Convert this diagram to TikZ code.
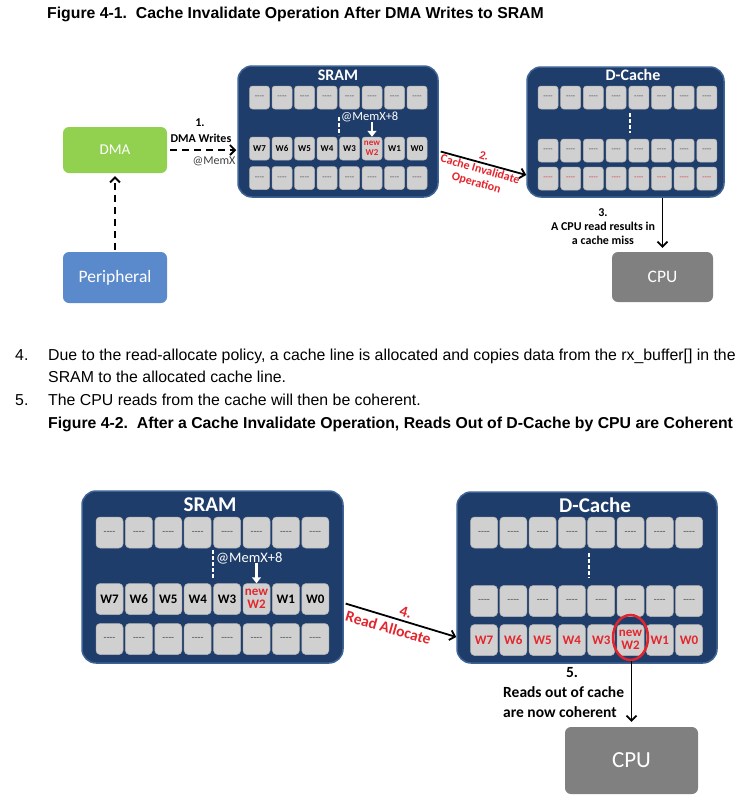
\documentclass[tikz,border=0pt]{standalone}
\usepackage{fontspec}
\setmainfont{Carlito}
\newfontfamily\nar{Liberation Sans}
\usetikzlibrary{arrows.meta,calc,shapes.geometric}
\definecolor{navy}{HTML}{1F3D6B}
\definecolor{navyedge}{HTML}{3E6496}
\definecolor{cellg}{HTML}{D0D0D0}
\definecolor{celledge}{HTML}{B4B4B4}
\definecolor{dashg}{HTML}{404040}
\definecolor{dmag}{HTML}{92D050}
\definecolor{perb}{HTML}{5A8ACB}
\definecolor{cpug}{HTML}{808080}
\definecolor{redt}{HTML}{E3262D}
\newcommand\celldash{{-}{-}{-}{-}}
\tikzset{
 membox/.style={draw=navyedge,line width=1.5pt,fill=navy,rounded corners=14pt,inner sep=0pt},
 blk/.style={rounded corners=6pt,inner sep=0pt,text=white},
 cellS/.style={fill=cellg,draw=celledge,line width=0.5pt,rounded corners=3pt,inner sep=0pt,minimum width=20pt,minimum height=23pt,font=\bfseries\fontsize{9}{9.5}\selectfont,align=center},
 cellL/.style={fill=cellg,draw=celledge,line width=0.5pt,rounded corners=4pt,inner sep=0pt,minimum width=27pt,minimum height=31pt,font=\bfseries\fontsize{13}{13}\selectfont,align=center},
 dS/.style={font=\fontsize{7.5}{7.5}\selectfont,text=dashg},
 dL/.style={font=\fontsize{9.5}{9.5}\selectfont,text=dashg},
 ttlS/.style={text=white,font=\bfseries\fontsize{16}{16}\selectfont,inner sep=0pt},
 ttlL/.style={text=white,font=\bfseries\fontsize{21}{21}\selectfont,inner sep=0pt},
 arr/.style={-{Straight Barb[length=5pt,width=10pt]},line width=1.8pt},
 darr/.style={arr,dash pattern=on 7pt off 5pt},
 warr/.style={-{Triangle[length=6pt,width=9pt]},line width=2.2pt,white},
 wdash/.style={white,line width=2pt,dash pattern=on 4pt off 2pt},
 lbl/.style={inner sep=0pt,font=\bfseries\fontsize{12}{14}\selectfont,align=center},
 rlbl/.style={lbl,text=redt},
 bodytxt/.style={inner sep=0pt,anchor=base west,font=\nar\fontsize{15.85}{16}\selectfont},
 captxt/.style={inner sep=0pt,anchor=base west,font=\nar\bfseries\fontsize{15.8}{16}\selectfont},
}
\begin{document}
\begin{tikzpicture}[x=1pt,y=-1pt]
\useasboundingbox (0,0) rectangle (750,804);
% captions and body text
\node[captxt] (cap1) at (47,18.3) {Figure 4-1.\ \ Cache Invalidate Operation After DMA Writes to SRAM};
\node[bodytxt] (n4) at (15,360.7) {4.};
\node[bodytxt] (t4a) at (48,360.7) {Due to the read-allocate policy, a cache line is allocated and copies data from the rx\_buffer[] in the};
\node[bodytxt] (t4b) at (48,382.7) {SRAM to the allocated cache line.};
\node[bodytxt] (n5) at (15,405.7) {5.};
\node[bodytxt] (t5) at (48,405.7) {The CPU reads from the cache will then be coherent.};
\node[captxt] (cap2) at (48,428.3) {Figure 4-2.\ \ After a Cache Invalidate Operation, Reads Out of D-Cache by CPU are Coherent};

% ================= Figure 4-1 =================
\node[blk,fill=dmag,minimum width=104pt,minimum height=46pt,font=\fontsize{15}{15}\selectfont] (dma) at (115,150) {DMA};
\node[blk,fill=perb,minimum width=104pt,minimum height=51pt,font=\fontsize{17.5}{17.5}\selectfont] (per) at (115,277.5) {Peripheral};
\node[blk,fill=cpug,minimum width=101pt,minimum height=50pt,font=\fontsize{17.5}{17.5}\selectfont] (cpu1) at (662.5,277) {CPU};

\node[membox,minimum width=200pt,minimum height=131pt] (sram1) at (338,131.5) {};
\node[ttlS] (sram1t) at (338,75) {SRAM};
\foreach \i in {0,...,7}{
  \node[cellS,dS] (sa\i) at ({259.5+22.5*\i},97.5) {\celldash};
  \node[cellS,dS] (sc\i) at ({259.5+22.5*\i},178) {\celldash};
}
\foreach \t [count=\i from 0] in {W7,W6,W5,W4,W3}{
  \node[cellS] (sb\i) at ({259.5+22.5*\i},148.5) {\t};
}
\node[cellS,text=redt] (sb5) at (372,148.5) {new\\W2};
\foreach \t [count=\i from 6] in {W1,W0}{
  \node[cellS] (sb\i) at ({259.5+22.5*\i},148.5) {\t};
}
\node[inner sep=0pt,text=white,font=\fontsize{12.5}{12.5}\selectfont,anchor=west] (mx1) at (341,117) {@MemX+8};
\coordinate (d1a) at (338.5,117);
\coordinate (d1b) at (338.5,135);
\draw[wdash] (d1a) -- (d1b);
\coordinate (w1a) at (372,122);
\draw[warr] (w1a) -- (sb5.north);

\node[membox,minimum width=197pt,minimum height=130pt] (dc1) at (625.5,132) {};
\node[ttlS] (dc1t) at (633,75) {D-Cache};
\foreach \i in {0,...,7}{
  \node[cellS,dS] (ca\i) at ({548+22.7*\i},97.5) {\celldash};
  \node[cellS,dS] (cb\i) at ({548+22.7*\i},150.5) {\celldash};
  \node[cellS,dS,text=redt] (cc\i) at ({548+22.7*\i},178.5) {\celldash};
}
\coordinate (d2a) at (629.5,113);
\coordinate (d2b) at (629.5,133);
\draw[wdash] (d2a) -- (d2b);

% connectors fig 1
\draw[darr,shorten <=2pt,shorten >=3pt] (per.north) -- (dma.south);
\draw[darr,shorten <=3pt,shorten >=1pt] (dma.east) -- (dma.east -| sram1.west);
\node[lbl] (l1a) at (200,123) {1.};
\node[lbl] (l1b) at (201,138) {DMA Writes};
\node[inner sep=0pt,font=\fontsize{12}{12}\selectfont,text=black!75] (l1c) at (214,161.5) {@MemX};

\draw[arr,shorten <=2pt] ([yshift=-19.5pt]sram1.east) -- ([yshift=-43pt]dc1.west);
\node[rlbl,rotate=-16] (l2) at (480,170) {2.\\Cache Invalidate\\Operation};

\draw[arr,shorten >=4pt] (cpu1.north |- dc1.south) -- (cpu1.north);
\node[lbl] (l3) at (603,226.5) {3.\\A CPU read results in\\a cache miss};

% ================= Figure 4-2 =================
\node[membox,minimum width=261pt,minimum height=172pt] (sram2) at (212.5,577) {};
\node[ttlL] (sram2t) at (210,505) {SRAM};
\foreach \i in {0,...,7}{
  \node[cellL,dL] (ta\i) at ({109.5+29.4*\i},532.5) {\celldash};
  \node[cellL,dL] (tc\i) at ({109.5+29.4*\i},639) {\celldash};
}
\foreach \t [count=\i from 0] in {W7,W6,W5,W4,W3}{
  \node[cellL] (tb\i) at ({109.5+29.4*\i},599) {\t};
}
\node[cellL,text=redt] (tb5) at (256.5,599) {new\\W2};
\foreach \t [count=\i from 6] in {W1,W0}{
  \node[cellL] (tb\i) at ({109.5+29.4*\i},599) {\t};
}
\node[inner sep=0pt,text=white,font=\fontsize{14.5}{14.5}\selectfont,anchor=west] (mx2) at (216,558) {@MemX+8};
\coordinate (d3a) at (212.5,550);
\coordinate (d3b) at (212.5,578);
\draw[wdash] (d3a) -- (d3b);
\coordinate (w2a) at (256.5,563);
\draw[warr] (w2a) -- (tb5.north);

\node[membox,minimum width=260pt,minimum height=171pt] (dc2) at (587,577.5) {};
\node[ttlL] (dc2t) at (595,505) {D-Cache};
\foreach \i in {0,...,7}{
  \node[cellL,dL] (ua\i) at ({484+29.3*\i},532.5) {\celldash};
  \node[cellL,dL] (ub\i) at ({484+29.3*\i},601) {\celldash};
}
\foreach \t [count=\i from 0] in {W7,W6,W5,W4,W3}{
  \node[cellL,text=redt] (uc\i) at ({484+29.3*\i},640) {\t};
}
\node[cellL,text=redt] (uc5) at (630.5,640) {new\\W2};
\foreach \t [count=\i from 6] in {W1,W0}{
  \node[cellL,text=redt] (uc\i) at ({484+29.3*\i},640) {\t};
}
\node[draw=redt,line width=2.5pt,ellipse,minimum width=35pt,minimum height=45pt,inner sep=0pt] (ring) at (630.5,637.5) {};
\coordinate (d4a) at (588.5,553);
\coordinate (d4b) at (588.5,578);
\draw[wdash] (d4a) -- (d4b);

\node[blk,fill=cpug,minimum width=133pt,minimum height=67pt,font=\fontsize{23}{23}\selectfont] (cpu2) at (631.5,760.5) {CPU};

\draw[arr,shorten <=2pt] ([yshift=-26pt]sram2.east) -- ([yshift=-59.5pt]dc2.west);
\node[rlbl,rotate=-16,font=\bfseries\fontsize{15.5}{20}\selectfont] (l4) at (391,618.5) {\hspace*{25pt}4.\\Read Allocate};

\draw[arr,shorten >=5pt] (cpu2.north |- ring.south) -- (cpu2.north);
\node[lbl,font=\bfseries\fontsize{15.5}{15.5}\selectfont] (l5a) at (572,673) {5.};
\node[lbl,font=\bfseries\fontsize{15.5}{19.5}\selectfont,anchor=west,align=left] (l5b) at (503,702) {Reads out of cache\\are now coherent};
\end{tikzpicture}
\end{document}
